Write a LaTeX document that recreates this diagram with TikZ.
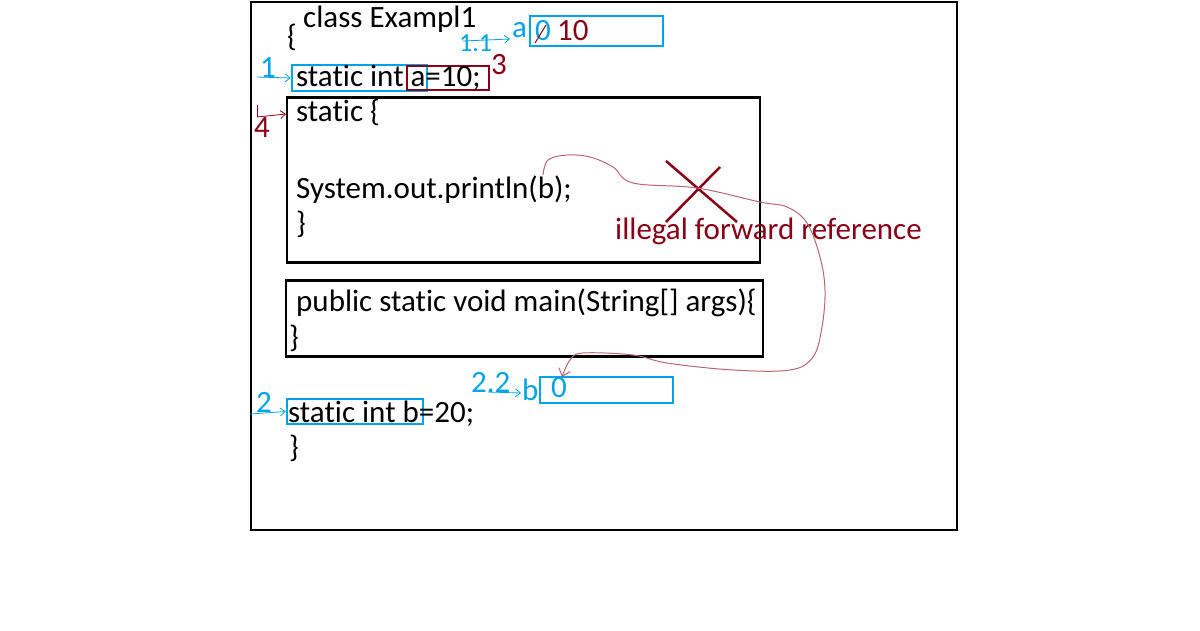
\documentclass[tikz,border=0pt]{standalone}
\usepackage{fontspec}
\setmainfont{Carlito}[Ligatures={NoCommon}]
\usetikzlibrary{arrows.meta}
\definecolor{pblue}{RGB}{0,162,232}
\definecolor{pred}{RGB}{136,0,21}
\begin{document}
\begin{tikzpicture}[x=1pt,y=-1pt,
	txt/.style={anchor=base west,inner sep=0pt,font=\fontsize{31}{36}\selectfont},
	bluebox/.style={draw=pblue,line width=2.5pt,inner sep=0pt},
	redbox/.style={draw=pred,line width=2.5pt,inner sep=0pt},
	blockbox/.style={draw,line width=2.5pt,inner sep=0pt},
	tick/.style={-{Straight Barb[length=5pt,width=8pt]},line width=0.8pt}]
\useasboundingbox (0,0) rectangle (1200,630);
\draw[line width=2.5pt] (251,2) rectangle (957,530);

\begin{scope}
	\node[txt,text depth=0pt] (cls) at (303,27){class Exampl1};
	\node[txt] (lbr) at (287,46){\{};
	\node[txt,pblue,font=\fontsize{26}{31}\selectfont] (n11) at (459,51){1.1};
	\node[txt,pblue] (va) at (512,37){a};
	\node[bluebox,minimum width=133,minimum height=30] (boxa) at (596.5,31){};
	\node[txt,pblue] (za) at (535,40){0};
	\node[txt,pred] (tena) at (557,40){10};
	\draw[pred,line width=1pt] (535,43)--(546,25);
	\coordinate (t11) at (463,41);
	\coordinate (h11) at (510,39);
	\draw[tick,pblue] (t11)--(h11);
\end{scope}

\begin{scope}
	\node[bluebox,minimum width=135,minimum height=26] (bsa) at (359.5,78){};
	\node[redbox,minimum width=82,minimum height=24] (rsa) at (448,78){};
	\node[txt] (sa) at (296,86){static int a=10;};
	\node[txt,pblue] (n1) at (260,77){1};
	\node[txt,pred] (n3) at (491,74){3};
	\coordinate (t1) at (257,77);
	\draw[tick,pblue] (t1)--(bsa.west);
\end{scope}

\begin{scope}
	\node[blockbox,minimum width=473,minimum height=165] (sblk) at (523.5,180){};
	\node[txt] (st) at (296,121){static \{};
	\node[txt] (pr) at (296,198){System.out.println(b);};
	\node[txt] (rb1) at (296,233){\}};
	\node[txt,pred] (n4) at (254,137){4};
	\coordinate (t4) at (257,117);
	\coordinate (h4) at (286,114);
	\draw[pred,line width=1pt] (257,105)--(t4);
	\draw[tick,pred] (t4)--(h4);
	\draw[pred,line width=2.5pt] (666,161)--(737,222);
	\draw[pred,line width=2.5pt] (720,167)--(666,222);
	\node[txt,pred] (ill) at (615,239){illegal forward reference};
\end{scope}

\begin{scope}
	\node[blockbox,minimum width=477,minimum height=76] (mblk) at (524.5,318.5){};
	\node[txt] (mn) at (296,311){public static void main(String[] args)\{};
	\node[txt] (rb2) at (289,347){\}};
\end{scope}

\begin{scope}
	\node[bluebox,minimum width=133,minimum height=26] (boxb) at (606.5,390){};
	\node[txt,pblue] (n22) at (471,392){2.2};
	\node[txt,pblue] (vb) at (522,400){b};
	\node[txt,pblue] (zb) at (551,397){0};
	\coordinate (t22) at (488,392);
	\coordinate (h22) at (521,393);
	\draw[tick,pblue] (t22)--(h22);
	\node[bluebox,minimum width=136,minimum height=25] (bsb) at (355,411.5){};
	\node[txt] (sb) at (288,422){static int b=20;};
	\node[txt,pblue] (n2) at (256,412){2};
	\coordinate (t2) at (250,414);
	\draw[tick,pblue] (t2)--(bsb.west);
	\node[txt] (rb3) at (289,457){\}};
\end{scope}

\coordinate (cs) at (543,175);
\coordinate (ce) at (562,377);
\draw[pred!60,line width=1pt,-{Straight Barb[length=7pt,width=12pt]}] plot[smooth,tension=.6] coordinates{(cs) (548,160) (567,155) (590,157) (613,167) (633,183) (697,188) (760,202) (787,207) (807,223) (820,257) (825,290) (822,327) (813,357) (790,370) (733,370) (667,363) (633,355) (583,353) (570,360) (ce)};
\end{tikzpicture}
\end{document}
